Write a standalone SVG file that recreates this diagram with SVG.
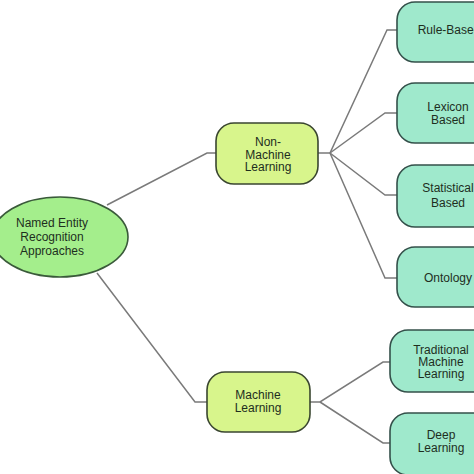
<svg xmlns="http://www.w3.org/2000/svg" width="474" height="474" viewBox="0 0 474 474">
<style>
.t{font-family:"Liberation Sans",Arial,sans-serif;font-size:12px;fill:#1e2e1e;text-anchor:middle}
.c{fill:none;stroke:#7a7a7a;stroke-width:1.5}
.l1{fill:#d8f58c;stroke:#3a4630;stroke-width:1.6}
.l2{fill:#9fe9cc;stroke:#34504a;stroke-width:1.6}
</style>
<rect width="474" height="474" fill="#ffffff"/>
<g id="connectors">
<polyline class="c" points="107,205 207,153 216,153"/>
<polyline class="c" points="97,273 195,402 207,402"/>
<polyline class="c" points="318,153 330,153 387,30 397,30"/>
<polyline class="c" points="330,153 385,113 397,113"/>
<polyline class="c" points="330,153 385,195 397,195"/>
<polyline class="c" points="330,153 385,278 397,278"/>
<polyline class="c" points="310,402 320,402 383,362 390,362"/>
<polyline class="c" points="320,402 383,443 390,443"/>
</g>
<g id="root">
<ellipse cx="60" cy="237" rx="68" ry="40" fill="#a4ee8c" stroke="#3a5a3a" stroke-width="1.6"/>
<text class="t" x="52" y="227">Named Entity</text>
<text class="t" x="52" y="241">Recognition</text>
<text class="t" x="52" y="255">Approaches</text>
</g>
<g id="non-ml">
<rect class="l1" x="216" y="123" width="102" height="61" rx="18"/>
<text class="t" x="268" y="146">Non-</text>
<text class="t" x="268" y="159">Machine</text>
<text class="t" x="268" y="171">Learning</text>
</g>
<g id="ml">
<rect class="l1" x="207" y="372" width="103" height="60" rx="18"/>
<text class="t" x="258" y="399">Machine</text>
<text class="t" x="258" y="412">Learning</text>
</g>
<g id="rule">
<rect class="l2" x="397" y="2" width="104" height="60" rx="18"/>
<text class="t" x="449" y="34">Rule-Based</text>
</g>
<g id="lexicon">
<rect class="l2" x="397" y="83" width="104" height="60" rx="18"/>
<text class="t" x="448" y="111">Lexicon</text>
<text class="t" x="448" y="124">Based</text>
</g>
<g id="statistical">
<rect class="l2" x="397" y="165" width="104" height="62" rx="18"/>
<text class="t" x="448" y="192">Statistical</text>
<text class="t" x="448" y="207">Based</text>
</g>
<g id="ontology">
<rect class="l2" x="397" y="247" width="104" height="60" rx="18"/>
<text class="t" x="448" y="282">Ontology</text>
</g>
<g id="traditional">
<rect class="l2" x="390" y="330" width="102" height="62" rx="18"/>
<text class="t" x="441" y="354">Traditional</text>
<text class="t" x="441" y="366">Machine</text>
<text class="t" x="441" y="378">Learning</text>
</g>
<g id="deep">
<rect class="l2" x="390" y="413" width="102" height="62" rx="18"/>
<text class="t" x="441" y="439">Deep</text>
<text class="t" x="441" y="452">Learning</text>
</g>
</svg>
